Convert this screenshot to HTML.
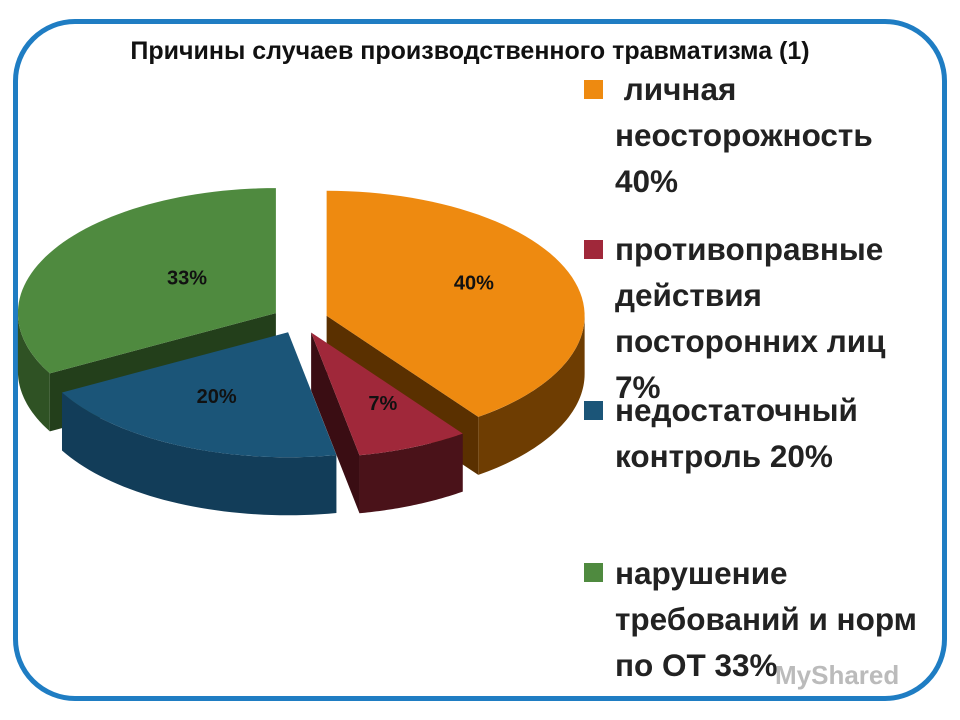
<!DOCTYPE html>
<html><head><meta charset="utf-8"><style>
body{margin:0;width:960px;height:720px;background:#fff;overflow:hidden;font-family:"Liberation Sans",sans-serif}
#frame{position:absolute;left:13px;top:19px;width:924px;height:672px;border:5px solid #1f7dc3;border-radius:62px}
#title{position:absolute;left:0;width:940px;top:37px;text-align:center;font-weight:bold;font-size:25px;color:#111}
.lg{position:absolute;left:615px;font-weight:bold;font-size:31.5px;line-height:46px;color:#222;white-space:nowrap}
.sq{position:absolute;left:584px;width:19px;height:19px}
#wm{position:absolute;left:775px;top:660px;font-size:26px;color:#bbb;font-weight:bold}
</style></head><body>
<div id="frame"></div>
<div id="title">Причины случаев производственного травматизма (1)</div>
<svg id="pie" width="960" height="720" style="position:absolute;left:0;top:0"></svg>
<div class="sq" style="top:80px;background:#ee8a10"></div>
<div class="lg" style="top:66px">&nbsp;личная<br>неосторожность<br>40%</div>
<div class="sq" style="top:240px;background:#a0283a"></div>
<div class="lg" style="top:226px">противоправные<br>действия<br>посторонних лиц<br>7%</div>
<div class="sq" style="top:401px;background:#1b5578"></div>
<div class="lg" style="top:387px">недостаточный<br>контроль 20%</div>
<div class="sq" style="top:563px;background:#4f8a3f"></div>
<div class="lg" style="top:550px">нарушение<br>требований и норм<br>по ОТ 33%</div>
<div id="wm">MyShared</div>
<script>
const names=['orange','red','blue','green'];
const values=[40,7,20,33];
const labels=['40%','7%','20%','33%'];
const tops=['#ee8a10','#a0283a','#1b5578','#4f8a3f'];
const sides=['#6e3d02','#4a1219','#123d59','#2f5224'];
const walls=['#5a3000','#3a0d13','#0e2f46','#233f1b'];
const labelR=[0.6,0.7,0.65,0.4];
const cx=300,cy=320,rx=258,ry=125,depth=58,expl=28;
const svg=document.getElementById('pie');
const NS='http://www.w3.org/2000/svg';
const total=values.reduce((a,b)=>a+b,0);
function pt(ox,oy,a,dz){const r=a*Math.PI/180;return [ox+rx*Math.sin(r),oy-ry*Math.cos(r)+dz];}
function poly(pts,fill,name){const p=document.createElementNS(NS,'polygon');p.setAttribute('points',pts.map(q=>q.join(',')).join(' '));p.setAttribute('fill',fill);


svg.appendChild(p);}
const slices=[];let acc=0;
values.forEach((v,i)=>{const s=acc/total*360,e=(acc+v)/total*360;acc+=v;slices.push({i,s,e});});
const order=[3,0,2,1];
order.forEach(i=>{const {s,e}=slices[i];const m=(s+e)/2*Math.PI/180;
const ox=cx+expl*Math.sin(m),oy=cy-expl*Math.cos(m)*ry/rx;
const C=[ox,oy],Cd=[ox,oy+depth];
const sy=Math.sin(s*Math.PI/180),ey=Math.sin(e*Math.PI/180);
if(sy<-0.01){const a=pt(ox,oy,s,0),b=pt(ox,oy,s,depth);poly([C,a,b,Cd],walls[i],'slice-wall-'+names[i]);}
if(ey>0.01){const a=pt(ox,oy,e,0),b=pt(ox,oy,e,depth);poly([C,a,b,Cd],walls[i],'slice-wall-'+names[i]);}
const a0=Math.max(s,90),a1=Math.min(e,270);
if(a1>a0){const tp=[],bp=[];for(let k=0;k<=40;k++){const a=a0+(a1-a0)*k/40;tp.push(pt(ox,oy,a,0));bp.push(pt(ox,oy,a,depth));}
poly(tp.concat(bp.reverse()),sides[i],'slice-side-'+names[i]);}
const tp=[C];for(let k=0;k<=60;k++){tp.push(pt(ox,oy,s+(e-s)*k/60,0));}
poly(tp,tops[i],'slice-'+names[i]);
const f=labelR[i];
const lp=[ox+rx*f*Math.sin(m),oy-ry*f*Math.cos(m)];
const t=document.createElementNS(NS,'text');t.setAttribute('x',lp[0]);t.setAttribute('y',lp[1]-3);t.setAttribute('text-anchor','middle');
t.setAttribute('font-size','20');t.setAttribute('font-weight','bold');t.setAttribute('fill','#111');t.textContent=labels[i];


svg.appendChild(t);});
</script>
</body></html>
